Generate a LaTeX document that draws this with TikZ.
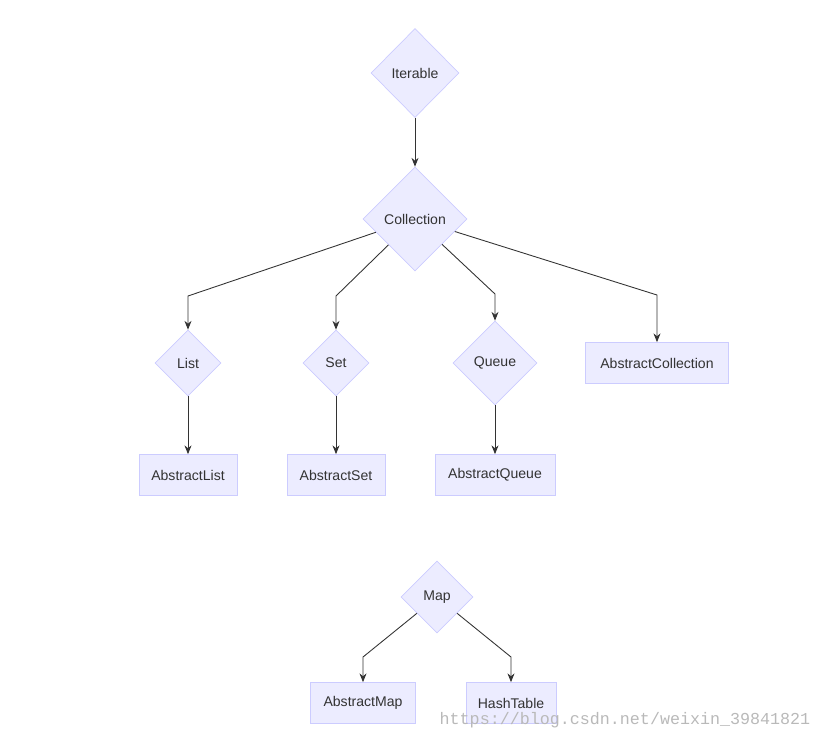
\documentclass[tikz,border=0pt]{standalone}
\usepackage{fontspec}
\setmainfont{Liberation Sans}
\newfontfamily\markfont{Liberation Mono}
\usetikzlibrary{shapes.geometric, arrows.meta}
\definecolor{boxfill}{HTML}{ECECFF}
\definecolor{boxline}{HTML}{CCCCFF}
\definecolor{ink}{HTML}{333333}
\tikzset{font={\fontsize{8}{9}\selectfont}, text=ink}
\tikzset{kind/.style={diamond, draw=boxline, fill=boxfill, inner sep=0pt}}
\tikzset{impl/.style={rectangle, draw=boxline, fill=boxfill, minimum height=0.82cm, inner sep=0pt}}
\tikzset{link/.style={draw=ink, line width=0.5pt, -{Stealth[length=5pt,width=4pt]}}}

\begin{document}
\begin{tikzpicture}[x=0.02cm, y=-0.02cm]

	\useasboundingbox (0,0) rectangle (822,741);

	% interfaces
	\node (iterable) [kind, minimum width=1.76cm, minimum height=1.78cm] at (415,73) {Iterable};
	\node (collection) [kind, minimum width=2.08cm, minimum height=2.08cm] at (415,219) {Collection};
	\node (list) [kind, minimum width=1.32cm, minimum height=1.32cm] at (188,363) {List};
	\node (set) [kind, minimum width=1.32cm, minimum height=1.32cm] at (336,363) {Set};
	\node (queue) [kind, minimum width=1.68cm, minimum height=1.68cm] at (495,363) {Queue};
	\node (map) [kind, minimum width=1.44cm, minimum height=1.44cm] at (437,597) {Map};

	% abstract classes
	\node (abs_coll) [impl, minimum width=2.86cm] at (657,363) {AbstractCollection};
	\node (abs_list) [impl, minimum width=1.96cm] at (188,475) {AbstractList};
	\node (abs_set) [impl, minimum width=1.96cm] at (336,475) {AbstractSet};
	\node (abs_queue) [impl, minimum width=2.4cm] at (495,475) {AbstractQueue};
	\node (abs_map) [impl, minimum width=2.1cm] at (363,703) {AbstractMap};
	\node (hash_table) [impl, minimum width=1.8cm] at (511,703) {HashTable};

	% bend points
	\coordinate (b_list) at (188,296);
	\coordinate (b_set) at (336,296);
	\coordinate (b_queue) at (495,294);
	\coordinate (b_coll) at (657,295);
	\coordinate (b_map) at (363,657);
	\coordinate (b_hash) at (511,657);

	\draw[link] (iterable) -- (collection);

	\draw[link] (collection) -- (b_list) -- (list);
	\draw[link] (collection) -- (b_set) -- (set);
	\draw[link] (collection) -- (b_queue) -- (queue);
	\draw[link] (collection) -- (b_coll) -- (abs_coll);

	\draw[link] (list) -- (abs_list);
	\draw[link] (set) -- (abs_set);
	\draw[link] (queue) -- (abs_queue);

	\draw[link] (map) -- (b_map) -- (abs_map);
	\draw[link] (map) -- (b_hash) -- (hash_table);

	\node (mark) [text=gray!55, font={\markfont\fontsize{9.5}{10}\selectfont}] at (625,720) {https://blog.csdn.net/weixin\_39841821};

\end{tikzpicture}
\end{document}
